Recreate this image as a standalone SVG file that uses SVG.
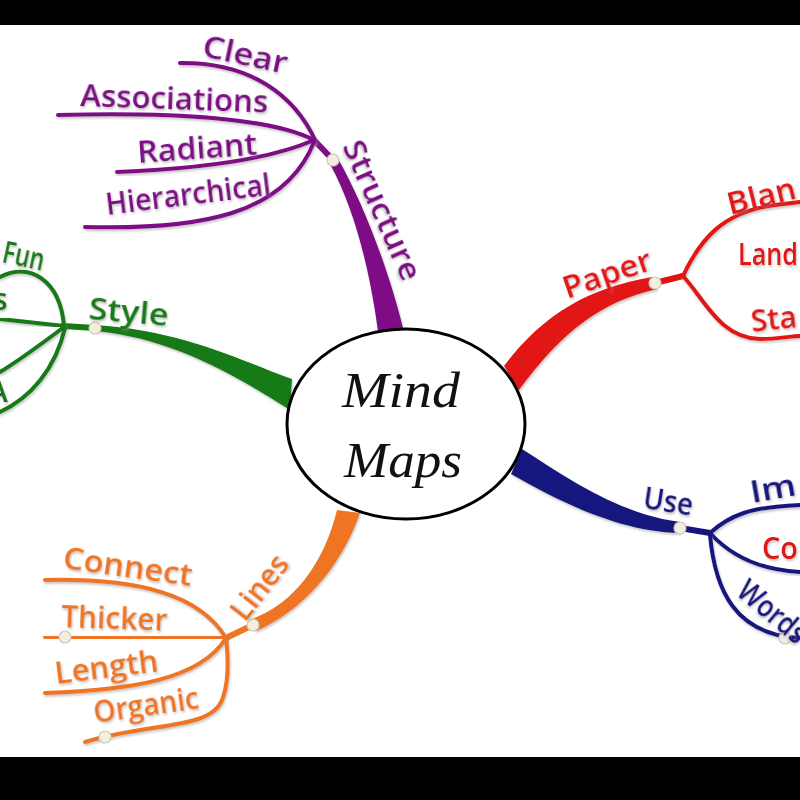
<svg xmlns="http://www.w3.org/2000/svg" width="800" height="800" viewBox="0 0 800 800">
<defs>
<filter id="sh" x="-10%" y="-10%" width="120%" height="120%">
<feDropShadow dx="1" dy="2" stdDeviation="1" flood-color="#888" flood-opacity="0.45"/>
</filter>
</defs>
<style>
.t{font-family:"Open Sans","DejaVu Sans",sans-serif;font-weight:600;font-size:30px;filter:url(#sh)}
.ln{fill:none;stroke-width:4;stroke-linecap:round;filter:url(#sh)}
.thin{fill:none;stroke-width:6;stroke-linecap:round}
.nd{fill:#f3eedf;stroke:#cfc8b5;stroke-width:1.2}
.pu{stroke:#7e0d85}.puf{fill:#7e0d85}
.re{stroke:#e31212}.ref{fill:#e31212}
.gr{stroke:#147a14}.grf{fill:#147a14}
.or{stroke:#ef7521}.orf{fill:#ef7521}
.bl{stroke:#16167f}.blf{fill:#16167f}
</style>
<rect x="0" y="0" width="800" height="800" fill="#fff"/>

<g id="connectors">
<!-- Structure (purple) -->
<path class="puf" filter="url(#sh)" d="M378 332 C 372 285, 358 215, 330 164 L 337 157 C 365 205, 392 280, 404 332 Z"/>
<path class="thin pu" d="M333 160 L 314 140"/>
<path class="ln pu" d="M180 63 C 250 62, 295 95, 316 142"/>
<path class="ln pu" d="M58 115 C 180 112, 270 118, 314 140"/>
<path class="ln pu" d="M117 172 C 220 168, 280 155, 314 140"/>
<path class="ln pu" d="M85 227 C 200 230, 285 215, 314 142"/>
<!-- Paper (red) -->
<path class="ref" filter="url(#sh)" d="M504 366 C 545 312, 590 288, 652 277 L 657 289 C 600 302, 562 332, 519 390 Z"/>
<path class="thin re" d="M655 283 L 683 276"/>
<path class="ln re" d="M683 276 C 700 240, 722 212, 775 205 L 800 202"/>
<path class="ln re" d="M683 276 L 800 276"/>
<path class="ln re" d="M683 276 C 705 300, 720 338, 760 339 C 780 339, 790 336, 800 336"/>
<!-- Style (green) -->
<path class="grf" filter="url(#sh)" d="M292 379 C 240 360, 180 330, 95 325 L 95 331 C 170 338, 230 372, 290 410 Z"/>
<path class="thin gr" d="M95 328 L 63 326"/>
<path class="ln gr" d="M0 277 C 30 262, 60 280, 64 326"/>
<path class="ln gr" d="M0 319 L 64 326"/>
<path class="ln gr" d="M64 327 C 40 345, 20 360, 0 372"/>
<path class="ln gr" d="M65 328 C 55 370, 30 398, 0 412"/>
<!-- Lines (orange) -->
<path class="orf" filter="url(#sh)" d="M337 510 C 325 560, 295 605, 249 620 L 256 631 C 300 612, 340 570, 360 513 Z"/>
<path class="thin or" d="M253 625 L 226 638"/>
<path class="ln or" d="M45 580 C 140 578, 200 595, 226 638"/>
<path class="ln or" d="M45 637 L 226 638"/>
<path class="ln or" d="M45 693 C 130 690, 200 680, 226 638"/>
<path class="ln or" d="M85 742 C 150 722, 210 730, 222 700 C 230 680, 228 655, 226 638"/>
<!-- Use (blue) -->
<path class="blf" filter="url(#sh)" d="M522 449 C 570 480, 620 514, 680 522 L 680 533 C 620 532, 560 502, 511 474 Z"/>
<path class="thin bl" d="M680 528 L 710 533"/>
<path class="ln bl" d="M710 533 C 730 515, 750 507, 800 505"/>
<path class="ln bl" d="M710 533 C 730 555, 760 570, 800 572"/>
<path class="ln bl" d="M710 535 C 715 590, 735 635, 800 638"/>
</g>

<g id="node-markers">
<circle class="nd" cx="333" cy="160" r="6"/>
<circle class="nd" cx="655" cy="283" r="6"/>
<circle class="nd" cx="95" cy="328" r="6"/>
<circle class="nd" cx="253" cy="625" r="6"/>
<circle class="nd" cx="680" cy="528" r="6"/>
<circle class="nd" cx="65" cy="637" r="6"/>
<circle class="nd" cx="105" cy="737" r="6"/>
<circle class="nd" cx="785" cy="638" r="6"/>
</g>

<g id="center">
<ellipse cx="406" cy="424" rx="119" ry="95" fill="#fff" stroke="#000" stroke-width="3"/>
<text x="401" y="407" text-anchor="middle" font-family="Liberation Serif, serif" font-style="italic" font-size="50" textLength="118" lengthAdjust="spacingAndGlyphs" fill="#111">Mind</text>
<text x="403" y="477" text-anchor="middle" font-family="Liberation Serif, serif" font-style="italic" font-size="50" textLength="118" lengthAdjust="spacingAndGlyphs" fill="#111">Maps</text>
</g>

<g id="structure">
<text class="t puf" transform="translate(342,146) rotate(66)" textLength="150" lengthAdjust="spacingAndGlyphs">Structure</text>
<text class="t puf" transform="translate(201,56) rotate(12)" textLength="86" lengthAdjust="spacingAndGlyphs">Clear</text>
<text class="t puf" transform="translate(80,106) rotate(2)" textLength="188" lengthAdjust="spacingAndGlyphs">Associations</text>
<text class="t puf" transform="translate(138,163) rotate(-4)" textLength="120" lengthAdjust="spacingAndGlyphs">Radiant</text>
<text class="t puf" transform="translate(107,215) rotate(-7)" textLength="166" lengthAdjust="spacingAndGlyphs">Hierarchical</text>
</g>

<g id="paper">
<text class="t ref" transform="translate(567,299) rotate(-19)" textLength="92" lengthAdjust="spacingAndGlyphs">Paper</text>
<text class="t ref" transform="translate(730,215) rotate(-14)" textLength="70" lengthAdjust="spacingAndGlyphs">Blan</text>
<text class="t ref" transform="translate(738,265)" textLength="60" lengthAdjust="spacingAndGlyphs">Land</text>
<text class="t ref" transform="translate(752,332) rotate(-6)" textLength="46" lengthAdjust="spacingAndGlyphs">Sta</text>
</g>

<g id="style">
<text class="t grf" transform="translate(88,319) rotate(5)" textLength="80" lengthAdjust="spacingAndGlyphs">Style</text>
<text class="t grf" transform="translate(1,262) rotate(12)" textLength="42" lengthAdjust="spacingAndGlyphs">Fun</text>
<text class="t grf" x="-7" y="310">s</text>
<text class="t grf" x="-12" y="402">A</text>
</g>

<g id="lines">
<text class="t orf" transform="translate(245,623) rotate(-52)" textLength="74" lengthAdjust="spacingAndGlyphs">Lines</text>
<text class="t orf" transform="translate(62,568) rotate(8)" textLength="130" lengthAdjust="spacingAndGlyphs">Connect</text>
<text class="t orf" transform="translate(61,627) rotate(2)" textLength="106" lengthAdjust="spacingAndGlyphs">Thicker</text>
<text class="t orf" transform="translate(56,684) rotate(-7)" textLength="104" lengthAdjust="spacingAndGlyphs">Length</text>
<text class="t orf" transform="translate(95,723) rotate(-8)" textLength="106" lengthAdjust="spacingAndGlyphs">Organic</text>
</g>

<g id="use">
<text class="t blf" transform="translate(642,508) rotate(9)" textLength="50" lengthAdjust="spacingAndGlyphs">Use</text>
<text class="t blf" transform="translate(752,503) rotate(-10)" textLength="46" lengthAdjust="spacingAndGlyphs">Im</text>
<text class="t ref" transform="translate(762,559)" textLength="36" lengthAdjust="spacingAndGlyphs">Co</text>
<text class="t blf" transform="translate(735,594) rotate(40)" textLength="80" lengthAdjust="spacingAndGlyphs">Words</text>
</g>

<g id="frame">
<rect x="0" y="0" width="800" height="25" fill="#000"/>
<rect x="0" y="757" width="800" height="43" fill="#000"/>
</g>
</svg>
